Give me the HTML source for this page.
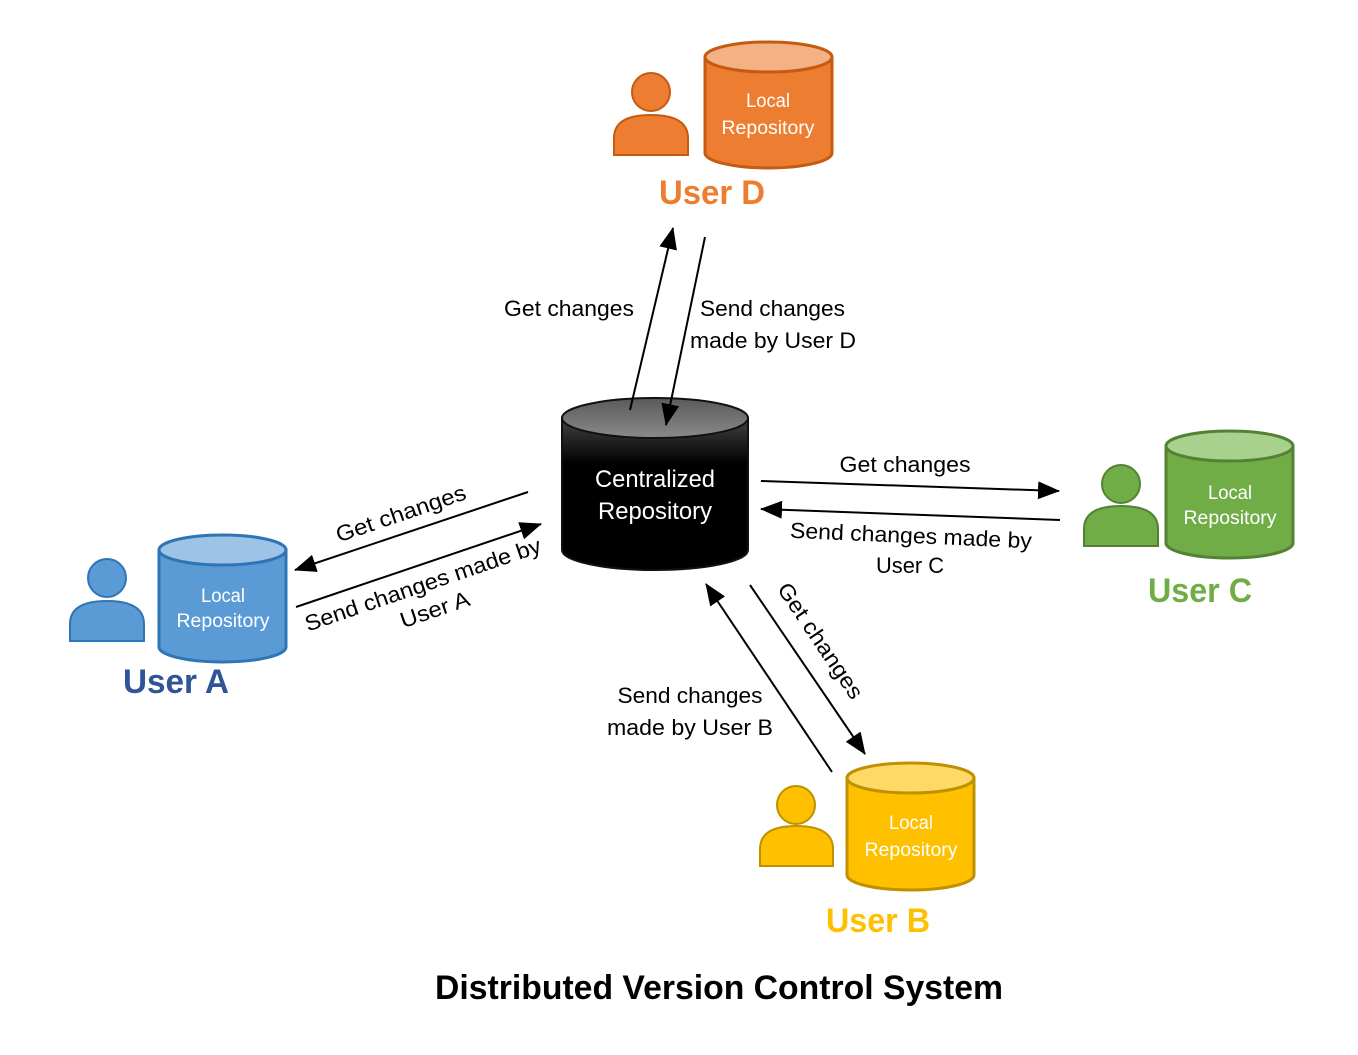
<!DOCTYPE html>
<html><head><meta charset="utf-8"><style>
html,body{margin:0;padding:0;background:#fff;}
svg{display:block;font-family:"Liberation Sans",sans-serif;}
</style></head><body>
<svg width="1358" height="1055" viewBox="0 0 1358 1055" xmlns="http://www.w3.org/2000/svg">
<defs>
<marker id="ah" viewBox="0 0 22 18" refX="21" refY="9" markerWidth="22" markerHeight="18" markerUnits="userSpaceOnUse" orient="auto">
<path d="M0,0 L22,9 L0,18 z" fill="#000"/>
</marker>
<linearGradient id="cg" x1="0" y1="0" x2="0" y2="1">
<stop offset="0" stop-color="#444"/><stop offset="0.3" stop-color="#000"/><stop offset="1" stop-color="#000"/>
</linearGradient>
<linearGradient id="ct" x1="0" y1="0" x2="0" y2="1">
<stop offset="0" stop-color="#5a5a5a"/><stop offset="1" stop-color="#8a8a8a"/>
</linearGradient>
</defs>

<!-- central -->
<path d="M562,418 L562,550 A93,20 0 0 0 748,550 L748,418 Z" fill="url(#cg)" stroke="#111" stroke-width="2"/>
<ellipse cx="655" cy="418" rx="93" ry="20" fill="url(#ct)" stroke="#111" stroke-width="2"/>
<text x="655" y="487" font-size="24" fill="#fff" text-anchor="middle" textLength="120" lengthAdjust="spacingAndGlyphs">Centralized</text>
<text x="655" y="519" font-size="24" fill="#fff" text-anchor="middle" textLength="114" lengthAdjust="spacingAndGlyphs">Repository</text>

<!-- User D -->
<path d="M705,57 L705,153 A63.5,15 0 0 0 832,153 L832,57 Z" fill="#ED7D31" stroke="#C55A11" stroke-width="3"/>
<ellipse cx="768.5" cy="57" rx="63.5" ry="15" fill="#F4B183" stroke="#C55A11" stroke-width="3"/>
<text x="768" y="107" font-size="19" fill="#fff" text-anchor="middle" textLength="44" lengthAdjust="spacingAndGlyphs">Local</text>
<text x="768" y="134" font-size="19" fill="#fff" text-anchor="middle" textLength="93" lengthAdjust="spacingAndGlyphs">Repository</text>
<circle cx="651" cy="92" r="19" fill="#ED7D31" stroke="#C55A11" stroke-width="2"/>
<path d="M614,155 L614,138 Q614,115 651,115 Q688,115 688,138 L688,155 Z" fill="#ED7D31" stroke="#C55A11" stroke-width="2"/>
<text x="712" y="204" font-size="34" font-weight="bold" fill="#ED7D31" text-anchor="middle" textLength="106" lengthAdjust="spacingAndGlyphs">User D</text>

<!-- User A -->
<path d="M159,550 L159,647 A63.5,15 0 0 0 286,647 L286,550 Z" fill="#5B9BD5" stroke="#2E75B6" stroke-width="3"/>
<ellipse cx="222.5" cy="550" rx="63.5" ry="15" fill="#9DC3E6" stroke="#2E75B6" stroke-width="3"/>
<text x="223" y="602" font-size="19" fill="#fff" text-anchor="middle" textLength="44" lengthAdjust="spacingAndGlyphs">Local</text>
<text x="223" y="627" font-size="19" fill="#fff" text-anchor="middle" textLength="93" lengthAdjust="spacingAndGlyphs">Repository</text>
<circle cx="107" cy="578" r="19" fill="#5B9BD5" stroke="#2E75B6" stroke-width="2"/>
<path d="M70,641 L70,624 Q70,601 107,601 Q144,601 144,624 L144,641 Z" fill="#5B9BD5" stroke="#2E75B6" stroke-width="2"/>
<text x="176" y="693" font-size="34" font-weight="bold" fill="#2F5597" text-anchor="middle" textLength="106" lengthAdjust="spacingAndGlyphs">User A</text>

<!-- User C -->
<path d="M1166,446 L1166,543 A63.5,15 0 0 0 1293,543 L1293,446 Z" fill="#70AD47" stroke="#548235" stroke-width="3"/>
<ellipse cx="1229.5" cy="446" rx="63.5" ry="15" fill="#A9D18E" stroke="#548235" stroke-width="3"/>
<text x="1230" y="499" font-size="19" fill="#fff" text-anchor="middle" textLength="44" lengthAdjust="spacingAndGlyphs">Local</text>
<text x="1230" y="524" font-size="19" fill="#fff" text-anchor="middle" textLength="93" lengthAdjust="spacingAndGlyphs">Repository</text>
<circle cx="1121" cy="484" r="19" fill="#70AD47" stroke="#548235" stroke-width="2"/>
<path d="M1084,546 L1084,529 Q1084,506 1121,506 Q1158,506 1158,529 L1158,546 Z" fill="#70AD47" stroke="#548235" stroke-width="2"/>
<text x="1200" y="602" font-size="34" font-weight="bold" fill="#70AD47" text-anchor="middle" textLength="104" lengthAdjust="spacingAndGlyphs">User C</text>

<!-- User B -->
<path d="M847,778 L847,875 A63.5,15 0 0 0 974,875 L974,778 Z" fill="#FFC000" stroke="#BF9000" stroke-width="3"/>
<ellipse cx="910.5" cy="778" rx="63.5" ry="15" fill="#FFD966" stroke="#BF9000" stroke-width="3"/>
<text x="911" y="829" font-size="19" fill="#fff" text-anchor="middle" textLength="44" lengthAdjust="spacingAndGlyphs">Local</text>
<text x="911" y="856" font-size="19" fill="#fff" text-anchor="middle" textLength="93" lengthAdjust="spacingAndGlyphs">Repository</text>
<circle cx="796" cy="805" r="19" fill="#FFC000" stroke="#BF9000" stroke-width="2"/>
<path d="M760,866 L760,849 Q760,826 796,826 Q833,826 833,849 L833,866 Z" fill="#FFC000" stroke="#BF9000" stroke-width="2"/>
<text x="878" y="932" font-size="34" font-weight="bold" fill="#FFC000" text-anchor="middle" textLength="104" lengthAdjust="spacingAndGlyphs">User B</text>

<!-- arrows -->
<g stroke="#000" stroke-width="2" fill="none" marker-end="url(#ah)">
<line x1="630" y1="410" x2="673" y2="228"/>
<line x1="705" y1="237" x2="666" y2="425"/>
<line x1="761" y1="481" x2="1059" y2="491"/>
<line x1="1060" y1="520" x2="761" y2="509"/>
<line x1="528" y1="492" x2="295" y2="570"/>
<line x1="296" y1="607" x2="541" y2="524"/>
<line x1="832" y1="772" x2="706" y2="584"/>
<line x1="750" y1="585" x2="865" y2="754"/>
</g>

<g font-size="22" fill="#000">
<text x="569" y="316" text-anchor="middle" textLength="130" lengthAdjust="spacingAndGlyphs">Get changes</text>
<text x="700" y="316" textLength="145" lengthAdjust="spacingAndGlyphs">Send changes</text>
<text x="690" y="348" textLength="166" lengthAdjust="spacingAndGlyphs">made by User D</text>
<text x="905" y="472" text-anchor="middle" textLength="131" lengthAdjust="spacingAndGlyphs">Get changes</text>
<text x="911" y="543" text-anchor="middle" textLength="242" lengthAdjust="spacingAndGlyphs" transform="rotate(2.5 911 535)">Send changes made by</text>
<text x="910" y="573" text-anchor="middle" textLength="68" lengthAdjust="spacingAndGlyphs">User C</text>
<text x="690" y="703" text-anchor="middle" textLength="145" lengthAdjust="spacingAndGlyphs">Send changes</text>
<text x="690" y="735" text-anchor="middle" textLength="166" lengthAdjust="spacingAndGlyphs">made by User B</text>
<text x="401" y="521" text-anchor="middle" textLength="136" lengthAdjust="spacingAndGlyphs" transform="rotate(-18.8 401 514)">Get changes</text>
<text x="423" y="592" text-anchor="middle" textLength="248" lengthAdjust="spacingAndGlyphs" transform="rotate(-18.8 423 585)">Send changes made by</text>
<text x="435" y="617" text-anchor="middle" textLength="72" lengthAdjust="spacingAndGlyphs" transform="rotate(-18.8 435 610)">User A</text>
<text x="820" y="648" text-anchor="middle" textLength="135" lengthAdjust="spacingAndGlyphs" transform="rotate(56 820 641)">Get changes</text>
</g>

<text x="719" y="999" font-size="34" font-weight="bold" fill="#000" text-anchor="middle" textLength="568" lengthAdjust="spacingAndGlyphs">Distributed Version Control System</text>
</svg>
</body></html>
